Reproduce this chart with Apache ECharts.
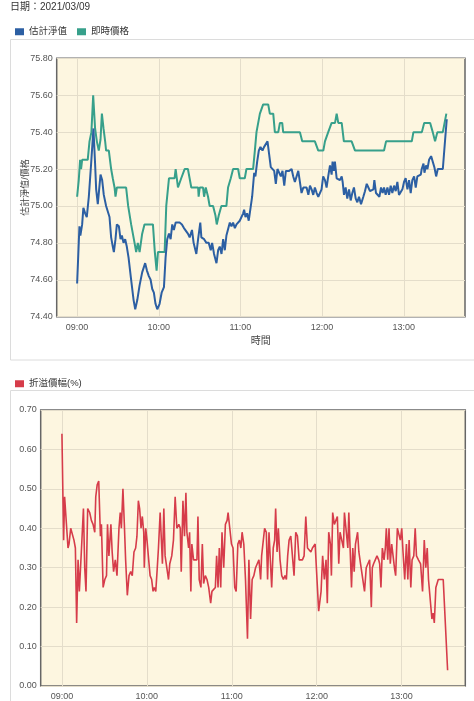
<!DOCTYPE html>
<html><head><meta charset="utf-8">
<script src="https://cdn.jsdelivr.net/npm/echarts@6/dist/echarts.min.js"></script>
<style>html,body{margin:0;padding:0;background:#fff}#c{width:474px;height:701px}</style>
</head><body><div id="c"></div>
<script>
// ---- text ----
const dateText = '日期：2021/03/09';
const navName = '估計淨值';
const priceName = '即時價格';
const premName = '折溢價幅(%)';
const yName1 = '估計淨值/價格';
const xName1 = '時間';
const hourTicks = ['09:00', '10:00', '11:00', '12:00', '13:00'];
const xRange = ['08:45', '13:45'];

// ---- data: minutes after 09:00 ----
const navT = [0,1.7,2.4,3.7,4.6,5.9,7.1,8.6,10.3,12.0,13.2,14.0,15.2,17.2,18.4,19.6,21.3,22.6,23.8,25.0,
26.2,27.0,28.2,29.2,30.7,31.9,32.9,34.1,35.3,36.5,37.8,39.7,41.5,42.7,44.2,45.9,47.8,48.8,50.0,51.3,
52.7,54.0,55.2,56.4,57.6,58.9,60.6,62.1,63.8,65.0,66.2,67.5,68.7,69.9,71.1,72.4,73.6,75.3,77.0,78.5,
79.7,81.4,82.7,84.4,85.6,
86.4,87.6,88.9,90.5,91.3,93.3,95.0,96.7,98.2,99.2,100.6,102.4,103.6,104.8,106.1,107.3,108.5,109.7,111.0,112.2,
113.4,114.6,115.9,117.1,118.3,119.5,120.8,122.0,122.7,123.7,124.9,126.1,127.4,128.6,130.1,131.0,132.3,133.5,134.7,136.2,
137.4,138.6,139.9,141.1,142.3,143.6,144.8,146.0,147.2,148.5,149.7,150.9,152.2,153.4,154.6,155.8,157.6,158.8,160.0,161.3,
162.5,163.7,164.9,166.2,167.4,168.6,169.9,171.1,172.3,173.5,174.7,176.0,177.2,
178.4,179.6,180.8,182.1,183.3,184.5,185.8,187.0,187.7,188.7,189.4,190.7,191.9,193.1,194.4,195.1,196.1,197.3,198.5,199.8,
201.0,202.2,203.4,204.7,205.9,207.1,208.6,210.3,211.5,212.8,214.0,215.2,216.4,217.7,218.4,219.6,220.9,222.1,223.3,224.5,
225.5,226.7,228.0,229.2,230.4,231.6,232.9,234.1,235.3,236.5,237.8,239.0,240.2,241.4,242.7,243.9,245.1,246.3,247.6,248.8,
250.0,251.2,252.5,253.2,254.5,255.2,256.4,257.4,258.6,260.1,261.3,262.5,263.8,265.0,268.7,270.4,271.6];
const navV = [74.58,74.89,74.84,74.90,74.99,74.96,74.94,75.05,75.23,75.42,75.23,75.09,75.01,75.17,75.14,75.06,75.00,75.01,74.94,74.83,
74.78,74.75,74.82,74.90,74.89,74.82,74.84,74.80,74.82,74.78,74.72,74.60,74.49,74.44,74.49,74.57,74.64,74.63,74.69,74.65,
74.62,74.60,74.55,74.53,74.47,74.44,74.47,74.53,74.56,74.72,74.82,74.85,74.82,74.90,74.87,74.91,74.90,74.91,74.90,74.88,
74.89,74.85,74.83,74.87,74.80,
74.81,74.74,74.82,74.91,74.83,74.82,74.80,74.80,74.76,74.80,74.74,74.69,74.76,74.78,74.74,74.82,74.76,74.84,74.85,74.91,
74.89,74.91,74.88,74.90,74.89,74.92,74.91,74.96,74.98,74.94,74.96,74.92,74.91,75.05,75.18,75.16,75.24,75.30,75.32,75.30,
75.32,75.31,75.35,75.28,75.21,75.20,75.19,75.12,75.20,75.19,75.16,75.19,75.11,75.19,75.19,75.19,75.20,75.16,75.13,75.14,
75.19,75.18,75.07,75.10,75.11,75.10,75.06,75.11,75.09,75.06,75.10,75.07,75.05,
75.04,75.09,75.16,75.14,75.10,75.16,75.22,75.17,75.24,75.19,75.24,75.15,75.14,75.14,75.16,75.13,75.06,75.10,75.04,75.09,
75.03,75.07,75.10,75.04,75.02,75.05,75.01,75.05,75.08,75.12,75.10,75.08,75.07,75.09,75.14,75.07,75.06,75.05,75.10,75.07,
75.10,75.06,75.10,75.06,75.11,75.07,75.11,75.08,75.13,75.06,75.05,75.09,75.13,75.15,75.09,75.14,75.07,75.14,75.16,75.10,
75.16,75.16,75.17,75.20,75.23,75.18,75.22,75.20,75.25,75.27,75.26,75.21,75.16,75.20,75.20,75.36,75.47];

const priceT = [0,1.2,2.2,2.9,3.7,7.8,9.1,10.5,11.8,13.2,14.5,15.9,17.2,18.2,19.4,20.6,21.3,23.3,25.0,26.2,
27.5,28.2,29.2,36.0,37.5,39.7,42.2,43.4,44.6,45.9,47.8,49.5,55.7,57.1,58.4,59.4,64.3,65.5,67.5,71.6,
72.4,74.1,76.5,79.0,81.4,83.9,
86.4,88.9,89.3,90.1,92.5,93.3,94.5,96.2,97.4,99.9,101.6,102.6,104.1,106.0,109.7,110.9,112.9,114.6,118.3,119.5,
123.2,124.4,129.3,130.6,131.8,134.3,136.7,140.4,141.6,144.1,145.3,147.8,149.0,150.7,151.4,163.7,165.4,174.7,177.2,
180.9,182.1,184.5,187.0,189.5,190.7,191.9,194.4,196.0,201.7,204.2,225.5,227.0,245.9,247.1,253.3,255.0,259.4,261.3,263.0,
264.7,268.7,270.0,271.3];
const priceV = [75.05,75.14,75.25,75.20,75.25,75.25,75.35,75.40,75.60,75.42,75.35,75.30,75.36,75.50,75.42,75.35,75.30,75.30,75.20,75.15,
75.10,75.05,75.10,75.10,75.00,74.90,74.80,74.75,74.80,74.75,74.85,74.90,74.90,74.75,74.65,74.75,74.75,75.00,75.15,75.15,
75.20,75.10,75.15,75.20,75.20,75.10,
75.10,75.10,75.05,75.10,75.10,75.05,75.10,75.05,75.00,75.00,74.95,74.90,74.95,75.00,75.00,75.10,75.15,75.20,75.20,75.15,
75.15,75.20,75.20,75.30,75.40,75.50,75.55,75.55,75.50,75.50,75.40,75.40,75.45,75.45,75.40,75.40,75.35,75.35,75.30,
75.30,75.35,75.40,75.45,75.45,75.50,75.45,75.45,75.35,75.35,75.30,75.30,75.35,75.35,75.40,75.40,75.45,75.45,75.40,75.35,
75.40,75.40,75.45,75.50];

const premT = [0,1.2,1.9,3.1,4.3,5.0,6.2,7.4,8.5,9.5,10.4,11.4,12.3,13.7,15.2,16.1,17.0,18.2,19.6,20.8,
22.0,23.2,23.9,24.9,26.0,27.2,27.9,29.1,30.3,31.5,32.2,33.2,34.6,35.5,36.5,37.7,38.9,40.3,41.2,42.0,
43.1,44.1,45.0,46.2,47.4,48.6,49.7,50.9,52.1,53.0,54.0,54.9,55.9,56.8,57.8,58.2,59.2,60.1,61.3,62.3,
63.4,64.4,65.3,66.3,67.2,68.2,69.4,70.0,71.0,72.0,72.9,74.1,75.3,76.2,77.6,78.8,80.0,81.2,82.6,83.6,
84.3,85.5,86.6,87.6,88.3,89.5,90.2,91.1,91.8,93.0,94.2,95.4,96.1,97.0,98.2,99.2,100.1,101.3,102.5,103.7,
105.1,106.0,107.2,108.4,109.3,110.3,111.2,112.2,113.1,114.3,115.5,116.7,117.4,118.6,119.8,120.9,122.1,123.1,124.3,125.4,
126.4,127.3,128.5,129.7,131.1,132.1,133.3,134.4,135.6,136.8,138.0,139.2,140.4,141.1,142.3,143.2,144.4,145.3,146.3,147.2,
148.2,149.3,150.3,151.0,152.0,152.9,154.1,155.3,156.5,157.6,158.6,159.5,160.5,161.7,162.8,164.0,165.2,166.4,167.6,168.8,
169.9,171.1,172.3,173.5,174.7,175.9,177.0,178.9,181.4,183.1,184.2,185.4,186.6,187.5,188.5,189.7,190.4,191.3,192.5,193.7,
194.6,195.6,196.5,197.7,198.9,199.6,200.8,202.0,202.7,203.6,204.6,205.5,206.5,207.4,208.9,209.8,211.0,212.6,213.8,215.0,
216.2,217.4,218.6,219.3,220.2,221.4,222.6,223.8,224.5,225.4,226.4,227.6,228.5,229.2,230.2,231.1,232.0,233.0,233.9,235.1,
235.8,237.0,238.2,239.1,240.1,241.0,242.2,243.4,244.4,245.3,246.5,247.4,248.6,249.6,250.5,251.9,253.4,254.8,256.0,257.1,
258.1,259.0,260.0,261.4,262.3,263.1,264.2,265.9,269.4,272.5];
const premV = [0.64,0.37,0.48,0.48,0.35,0.36,0.40,0.40,0.37,0.35,0.16,0.32,0.24,0.34,0.45,0.30,0.24,0.45,0.44,0.42,
0.41,0.39,0.48,0.51,0.52,0.38,0.41,0.25,0.27,0.28,0.41,0.33,0.41,0.34,0.29,0.32,0.28,0.40,0.44,0.40,
0.50,0.41,0.32,0.23,0.28,0.29,0.28,0.34,0.35,0.38,0.47,0.45,0.40,0.43,0.39,0.30,0.40,0.37,0.32,0.28,
0.27,0.24,0.25,0.24,0.29,0.35,0.44,0.44,0.31,0.45,0.33,0.30,0.27,0.31,0.33,0.37,0.48,0.40,0.41,0.40,
0.29,0.47,0.38,0.49,0.39,0.35,0.39,0.24,0.36,0.32,0.32,0.32,0.43,0.27,0.25,0.36,0.26,0.28,0.27,0.25,
0.21,0.24,0.24,0.25,0.33,0.25,0.35,0.25,0.39,0.30,0.41,0.42,0.44,0.40,0.36,0.35,0.25,0.24,0.36,0.37,
0.35,0.39,0.36,0.27,0.12,0.32,0.17,0.27,0.28,0.30,0.31,0.32,0.27,0.33,0.33,0.40,0.39,0.27,0.39,0.39,
0.25,0.35,0.37,0.45,0.34,0.40,0.32,0.28,0.27,0.28,0.27,0.33,0.37,0.38,0.38,0.28,0.39,0.38,0.32,0.32,
0.32,0.33,0.43,0.35,0.35,0.34,0.35,0.36,0.19,0.24,0.33,0.27,0.32,0.21,0.39,0.36,0.28,0.44,0.41,0.41,
0.43,0.31,0.39,0.37,0.35,0.44,0.44,0.35,0.44,0.44,0.25,0.35,0.29,0.36,0.39,0.34,0.31,0.27,0.24,0.30,
0.31,0.32,0.20,0.30,0.31,0.32,0.33,0.32,0.31,0.25,0.35,0.32,0.35,0.40,0.32,0.40,0.31,0.36,0.36,0.295,
0.28,0.40,0.40,0.37,0.40,0.34,0.27,0.36,0.27,0.37,0.25,0.32,0.33,0.40,0.33,0.32,0.31,0.24,0.37,0.30,
0.35,0.27,0.27,0.17,0.185,0.16,0.25,0.27,0.27,0.04];

// ---- helpers ----
const toMin = s => { const p = s.split(':'); return (+p[0]) * 60 + (+p[1]); };
const fmt = m => String(Math.floor(m / 60)).padStart(2, '0') + ':' + String(Math.round(m % 60)).padStart(2, '0');
const base = toMin('09:00');
const pairs = (T, V) => T.map((t, i) => [base + t, V[i]]);
const tickVals = hourTicks.map(toMin);

const FONT = '"Liberation Sans","Noto Sans CJK TC",sans-serif';
const C_NAV = '#2c5fa3', C_PRICE = '#37a08b', C_PREM = '#d63c4a';
const PLOT_BG = '#fdf6e0', GRID_C = '#e4ddca', LBL = '#555';

function xAx(gi, withName) {
  return {
    type: 'value', gridIndex: gi, min: toMin(xRange[0]), max: toMin(xRange[1]),
    axisLine: { show: false },
    axisTick: { show: false, customValues: tickVals },
    axisLabel: { customValues: tickVals, formatter: fmt, color: LBL, fontSize: 9, fontFamily: FONT, margin: 6 },
    splitLine: { show: true, lineStyle: { color: GRID_C, width: 1 } },
    name: withName ? xName1 : '', nameLocation: 'middle', nameGap: 20, nameMoveOverlap: false,
    nameTextStyle: { color: '#444', fontSize: 10, fontFamily: FONT }
  };
}

const chart = echarts.init(document.getElementById('c'), null, { renderer: 'canvas' });
chart.setOption({
  animation: false,
  textStyle: { fontFamily: FONT },
  graphic: [
    { type: 'text', left: 10, top: 2, style: { text: dateText, fontSize: 10, fill: '#333', fontFamily: FONT } },
    { type: 'rect', shape: { x: 10.5, y: 39.5, width: 470, height: 320.5 }, style: { fill: 'none', stroke: '#dcdcdc', lineWidth: 1 }, z: -1 },
    { type: 'rect', shape: { x: 10.5, y: 390.5, width: 470, height: 320 }, style: { fill: 'none', stroke: '#dcdcdc', lineWidth: 1 }, z: -1 }
  ],
  legend: [
    { left: 10, top: 22, data: [navName, priceName], icon: 'rect', itemWidth: 9, itemHeight: 7, itemGap: 10,
      textStyle: { fontSize: 9.5, color: '#333', fontFamily: FONT }, selectedMode: false },
    { left: 10, top: 374, data: [premName], icon: 'rect', itemWidth: 9, itemHeight: 7,
      textStyle: { fontSize: 9.5, color: '#333', fontFamily: FONT }, selectedMode: false }
  ],
  grid: [
    { left: 56.7, top: 58.3, width: 408.3, height: 258.4, show: true, backgroundColor: PLOT_BG, borderColor: '#666', borderWidth: 1.5, containLabel: false },
    { left: 40.7, top: 410, width: 424.6, height: 277, show: true, backgroundColor: PLOT_BG, borderColor: '#666', borderWidth: 1.5, containLabel: false }
  ],
  xAxis: [xAx(0, true), xAx(1, false)],
  yAxis: [
    { type: 'value', gridIndex: 0, min: 74.4, max: 75.8, interval: 0.2,
      axisLine: { show: false }, axisTick: { show: false },
      axisLabel: { formatter: v => v.toFixed(2), color: LBL, fontSize: 9, fontFamily: FONT, margin: 4 },
      splitLine: { lineStyle: { color: GRID_C, width: 1 } },
      name: yName1, nameLocation: 'middle', nameGap: 31, nameRotate: 90, nameMoveOverlap: false,
      nameTextStyle: { color: '#444', fontSize: 9, fontFamily: FONT, verticalAlign: 'middle' } },
    { type: 'value', gridIndex: 1, min: 0, max: 0.7, interval: 0.1,
      axisLine: { show: false }, axisTick: { show: false },
      axisLabel: { formatter: v => v.toFixed(2), color: LBL, fontSize: 9, fontFamily: FONT, margin: 4 },
      splitLine: { lineStyle: { color: GRID_C, width: 1 } } }
  ],
  series: [
    { name: navName, type: 'line', xAxisIndex: 0, yAxisIndex: 0, data: pairs(navT, navV), showSymbol: false, symbol: 'none',
      lineStyle: { color: C_NAV, width: 2 }, itemStyle: { color: C_NAV }, z: 3 },
    { name: priceName, type: 'line', xAxisIndex: 0, yAxisIndex: 0, data: pairs(priceT, priceV), showSymbol: false, symbol: 'none',
      lineStyle: { color: C_PRICE, width: 2 }, itemStyle: { color: C_PRICE }, z: 2 },
    { name: premName, type: 'line', xAxisIndex: 1, yAxisIndex: 1, data: pairs(premT, premV), showSymbol: false, symbol: 'none',
      lineStyle: { color: C_PREM, width: 1.6 }, itemStyle: { color: C_PREM } }
  ]
});
</script></body></html>
